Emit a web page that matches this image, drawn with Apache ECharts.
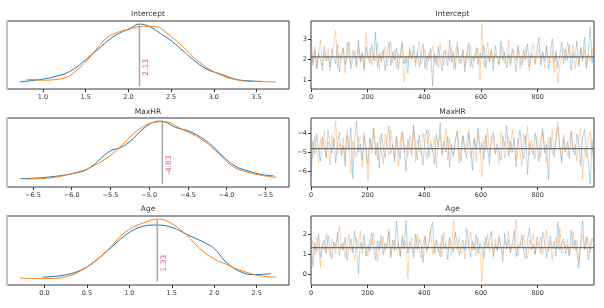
<!DOCTYPE html>
<html>
<head>
<meta charset="utf-8">
<script src="https://cdn.jsdelivr.net/npm/echarts@6/dist/echarts.min.js"></script>
<style>
  html, body { margin: 0; padding: 0; background: #fff; }
  #chart { width: 604px; height: 308px; }
</style>
</head>
<body>
<div id="chart"></div>
<script>
// variable names and posterior means
const varNames = ['Intercept', 'MaxHR', 'Age'];
const means = [2.13, -4.83, 1.33];

// KDE curves, [value, density] (density relative, y axis hidden)
const interceptKde0 = [[0.73,0.063],[1.0,0.107],[1.15,0.15],[1.28,0.204],[1.4,0.30],[1.51,0.42],[1.65,0.58],[1.79,0.74],[1.9,0.83],[2.02,0.90],[2.13,0.97],[2.25,0.93],[2.38,0.82],[2.52,0.69],[2.64,0.55],[2.75,0.42],[2.92,0.26],[3.07,0.19],[3.17,0.14],[3.27,0.10],[3.4,0.08],[3.57,0.07]];
const interceptKde1 = [[0.81,0.107],[1.0,0.09],[1.15,0.10],[1.28,0.14],[1.4,0.25],[1.51,0.39],[1.63,0.58],[1.75,0.76],[1.87,0.84],[1.98,0.88],[2.13,0.93],[2.23,0.935],[2.33,0.93],[2.45,0.83],[2.56,0.71],[2.68,0.56],[2.79,0.42],[2.95,0.26],[3.14,0.14],[3.25,0.10],[3.38,0.074],[3.55,0.066],[3.73,0.063]];
const maxhrKde0 = [[-6.67,0.078],[-6.28,0.105],[-5.89,0.18],[-5.76,0.25],[-5.63,0.38],[-5.5,0.50],[-5.37,0.55],[-5.24,0.65],[-5.1,0.81],[-4.97,0.92],[-4.87,0.95],[-4.8,0.94],[-4.67,0.86],[-4.45,0.78],[-4.23,0.62],[-4.06,0.43],[-3.89,0.27],[-3.71,0.19],[-3.54,0.14],[-3.39,0.12]];
const maxhrKde1 = [[-6.6,0.073],[-6.28,0.09],[-5.89,0.19],[-5.72,0.27],[-5.5,0.43],[-5.28,0.67],[-5.1,0.85],[-4.88,0.94],[-4.8,0.94],[-4.58,0.83],[-4.32,0.67],[-4.15,0.51],[-3.93,0.27],[-3.71,0.17],[-3.5,0.12],[-3.36,0.10]];
const ageKde0 = [[-0.02,0.073],[0.26,0.11],[0.49,0.22],[0.73,0.46],[0.96,0.72],[1.16,0.85],[1.33,0.87],[1.51,0.83],[1.67,0.73],[1.87,0.61],[2.0,0.51],[2.14,0.30],[2.3,0.16],[2.46,0.11],[2.67,0.125]];
const ageKde1 = [[-0.29,0.057],[0.0,0.05],[0.26,0.08],[0.49,0.22],[0.73,0.47],[0.96,0.77],[1.2,0.92],[1.33,0.96],[1.43,0.94],[1.63,0.77],[1.83,0.51],[2.0,0.35],[2.14,0.27],[2.3,0.18],[2.54,0.093],[2.73,0.073]];

// traces (thinned, 150 draws per chain over 0..999)
const interceptChain0 = [
  3.18,1.72,2.45,1.58,2.31,2.02,1.47,2.66,1.93,2.21,1.64,2.52,2.08,1.81,2.74,
  1.39,2.27,2.58,1.76,2.12,2.89,1.55,2.04,2.41,1.68,2.95,1.88,2.33,1.49,2.61,
  2.17,1.83,2.73,1.96,3.34,1.62,2.28,1.91,2.49,1.44,2.19,2.83,1.71,2.36,1.98,
  2.57,1.52,2.24,2.86,1.79,2.11,1.33,2.47,2.03,2.69,1.86,2.38,1.63,2.22,2.77,
  1.57,2.14,1.92,2.54,0.72,2.29,1.74,2.62,2.01,1.45,2.43,2.16,1.69,2.97,1.87,
  2.35,1.53,2.64,2.09,1.81,2.48,1.38,2.26,2.81,1.66,2.13,1.94,2.59,1.75,2.32,
  2.05,2.71,1.61,2.23,1.89,2.44,1.51,2.67,2.18,1.77,2.92,1.96,2.37,1.59,2.25,
  1.84,2.53,2.07,1.42,2.63,2.15,1.73,2.46,1.99,2.78,1.65,2.31,2.06,1.82,2.55,
  3.08,1.7,2.39,1.95,2.68,1.54,2.27,3.02,1.86,2.43,1.61,2.2,2.85,1.78,2.51,
  1.97,2.74,1.48,2.34,2.1,2.9,1.67,2.56,1.92,3.1,1.58,2.42,3.58,1.83,2.65];
const interceptChain1 = [
  2.42,1.86,2.63,1.55,2.24,2.97,1.71,2.35,1.93,2.58,1.44,2.19,2.76,3.41,1.62,
  2.28,1.97,2.51,1.35,2.84,2.07,1.78,2.46,2.12,1.63,2.69,1.89,2.33,1.58,3.31,
  2.01,2.55,1.74,2.29,1.92,2.81,1.51,2.38,2.09,2.64,1.69,2.21,2.93,1.84,2.47,
  1.57,2.32,2.05,2.72,0.92,2.16,1.81,2.59,1.98,2.44,1.66,2.27,2.86,1.76,2.11,
  2.53,1.49,2.37,2.0,2.66,1.87,2.22,1.61,2.78,2.04,1.73,2.49,2.17,1.94,2.61,
  1.52,2.3,2.88,1.79,2.14,2.45,1.68,2.36,1.96,2.71,1.58,2.25,2.03,2.57,1.04,
  3.73,1.64,2.19,2.83,1.9,2.5,1.85,2.3,2.08,1.72,2.34,2.62,1.81,2.15,2.96,
  1.67,2.26,2.48,1.95,2.7,1.56,2.2,1.88,2.6,2.02,1.43,2.39,2.77,1.75,2.13,
  2.52,1.91,2.31,1.6,2.67,2.06,1.83,2.44,1.37,2.29,0.86,1.69,2.18,2.56,1.97,
  2.85,2.35,2.09,2.73,1.54,2.23,1.8,2.62,2.01,2.47,1.65,2.28,1.89,2.54,2.16];
const maxhrChain0 = [
  -6.28,-4.41,-5.12,-4.05,-4.93,-5.47,-4.22,-4.76,-5.31,-3.88,-4.64,-5.06,-4.3,-5.58,-4.51,
  -3.97,-5.21,-4.68,-5.74,-4.12,-4.87,-3.71,-6.38,-4.45,-3.4,-5.03,-4.59,-5.41,-4.18,-4.96,
  -5.63,-4.27,-4.82,-3.79,-5.16,-4.49,-5.87,-4.03,-4.71,-5.29,-4.38,-3.65,-5.09,-4.62,-5.52,
  -4.15,-4.9,-5.36,-3.92,-4.57,-6.02,-4.33,-4.8,-5.19,-3.58,-4.69,-5.44,-4.11,-4.98,-5.7,
  -4.24,-3.83,-5.27,-4.54,-4.86,-5.61,-4.07,-4.73,-3.46,-5.13,-4.42,-5.0,-4.19,-5.81,-4.61,
  -5.24,-4.35,-3.89,-4.95,-5.48,-4.14,-4.78,-5.33,-4.02,-4.66,-5.95,-4.29,-4.88,-3.74,-5.07,
  -4.5,-5.38,-4.09,-4.84,-5.66,-4.21,-3.95,-5.11,-4.56,-4.99,-5.42,-4.17,-4.72,-3.62,-5.23,
  -4.44,-5.02,-4.26,-5.78,-4.63,-3.86,-4.91,-5.34,-4.13,-6.18,-4.53,-4.8,-5.15,-4.0,-4.69,
  -5.5,-4.37,-3.76,-5.06,-4.58,-6.46,-4.23,-4.94,-5.29,-4.1,-3.68,-4.75,-5.57,-4.32,-5.0,
  -4.47,-5.35,-3.94,-4.85,-5.18,-4.06,-4.62,-5.72,-4.25,-3.81,-4.97,-5.44,-6.68,-4.36,-6.08];
const maxhrChain1 = [
  -4.62,-5.35,-4.18,-4.97,-5.58,-4.3,-4.83,-3.91,-5.24,-4.47,-5.69,-4.09,-4.76,-3.38,-5.13,
  -4.55,-5.02,-4.24,-5.47,-3.86,-4.71,-6.12,-4.39,-4.94,-5.3,-4.15,-4.68,-5.81,-3.98,-4.88,
  -6.52,-4.33,-5.08,-3.73,-4.6,-5.41,-4.2,-4.86,-5.64,-4.04,-4.52,-5.17,-3.84,-4.79,-5.33,
  -4.27,-5.76,-4.44,-3.95,-5.05,-4.65,-5.26,-4.12,-4.91,-3.69,-5.53,-4.36,-4.81,-5.11,-4.02,
  -4.73,-5.39,-3.88,-4.57,-5.0,-4.23,-5.85,-4.48,-4.07,-5.2,-4.66,-3.78,-5.45,-4.3,-4.95,
  -5.14,-4.41,-3.93,-5.61,-4.74,-4.16,-5.03,-4.53,-3.82,-5.29,-4.87,-4.25,-5.5,-4.01,-4.69,
  -6.31,-4.35,-4.98,-3.72,-5.22,-4.58,-4.11,-5.07,-4.8,-5.66,-3.96,-4.43,-5.32,-4.64,-4.19,
  -5.01,-3.85,-4.7,-5.43,-4.28,-4.92,-5.74,-4.06,-4.55,-3.67,-5.18,-4.38,-4.85,-5.37,-4.14,
  -4.6,-5.27,-3.99,-4.77,-5.56,-4.21,-4.9,-3.81,-5.12,-4.46,-3.39,-4.73,-5.44,-4.08,-4.96,
  -5.23,-4.34,-3.9,-5.0,-4.61,-5.49,-4.17,-3.77,-6.43,-4.82,-5.3,-4.26,-3.94,-5.06,-4.52];
const ageChain0 = [
  1.82,0.41,1.57,1.12,2.01,0.86,1.44,1.69,1.03,1.91,1.27,0.78,1.62,1.38,2.08,
  0.95,1.51,1.19,1.84,0.69,1.33,1.76,1.08,2.17,1.42,0.02,1.58,1.24,1.97,0.89,
  1.47,1.15,2.05,1.31,0.74,1.66,1.21,1.93,0.98,1.54,1.36,2.12,0.83,1.71,1.17,
  2.64,1.45,0.92,1.79,1.28,2.68,1.06,1.6,1.39,0.81,2.0,1.23,1.74,1.49,0.59,
  1.88,1.13,1.55,2.22,2.58,1.01,1.67,1.34,0.87,1.95,1.26,1.52,0.72,1.83,1.41,
  1.1,2.09,1.59,0.96,1.37,1.73,1.18,2.26,1.46,0.84,1.64,1.22,1.98,1.05,1.53,
  1.35,0.79,1.86,1.29,1.62,2.14,0.93,1.48,1.16,1.8,1.4,0.67,2.03,1.25,1.7,
  1.09,1.57,2.19,0.88,1.44,1.32,1.94,1.14,0.76,1.68,2.31,1.2,1.5,0.99,1.85,
  1.43,1.07,2.11,1.61,0.82,1.37,1.9,1.27,1.66,0.91,2.59,1.19,1.53,1.78,1.02,
  1.46,0.94,2.2,1.3,1.72,1.11,0.33,1.63,2.66,1.24,1.87,0.71,1.49,1.79,1.65];
const ageChain1 = [
  1.21,1.68,0.97,1.85,1.42,0.36,1.59,1.13,2.04,1.3,0.88,1.74,1.47,1.05,1.92,
  2.38,1.26,1.61,0.82,1.5,1.99,1.17,1.39,0.73,1.81,1.33,2.15,1.02,1.56,1.24,
  0.91,1.77,1.44,2.07,1.19,0.62,1.65,1.36,1.87,1.08,1.53,2.24,0.96,1.4,1.71,
  1.14,1.58,0.85,1.95,1.29,1.63,-0.21,1.48,1.82,1.07,1.37,2.02,1.23,0.79,1.55,
  1.9,1.18,1.46,2.28,0.99,1.34,1.73,1.11,1.6,0.87,2.12,1.41,1.25,1.78,0.94,
  2.73,1.52,1.2,1.86,1.04,1.45,0.77,1.69,1.31,2.09,1.16,1.57,0.9,1.83,1.27,
  -0.37,1.64,1.38,2.01,1.1,1.55,0.84,1.76,1.22,1.93,1.35,0.98,1.67,1.43,2.16,
  1.06,1.51,1.28,2.74,0.93,1.62,1.39,1.97,1.15,0.8,1.7,1.47,2.05,1.01,1.59,
  1.32,1.89,0.95,1.54,2.21,1.12,1.66,0.73,1.44,1.8,1.26,2.33,1.03,1.6,1.36,
  1.75,0.89,1.5,2.1,1.19,1.67,0.58,1.41,1.94,1.23,1.56,1.84,1.08,1.71,1.62];

// tick labels
const interceptTicks = [1.0, 1.5, 2.0, 2.5, 3.0, 3.5];
const maxhrTicks = [-6.5, -6.0, -5.5, -5.0, -4.5, -4.0, -3.5];
const ageTicks = [0.0, 0.5, 1.0, 1.5, 2.0, 2.5];
const interceptTraceTicks = [1, 2, 3];
const maxhrTraceTicks = [-6, -5, -4];
const ageTraceTicks = [0, 1, 2];
const drawTicks = [0, 200, 400, 600, 800];
const lastDraw = 999;

const BLUE = '#1f77b4', ORANGE = '#ff7f0e';
const FONT = 'DejaVu Sans';
const TXT = '#333';

const rows = [
  { kde: [interceptKde0, interceptKde1], trace: [interceptChain0, interceptChain1], kdeTicks: interceptTicks, traceTicks: interceptTraceTicks, top: 21, height: 68, titleTop: 10 },
  { kde: [maxhrKde0, maxhrKde1], trace: [maxhrChain0, maxhrChain1], kdeTicks: maxhrTicks, traceTicks: maxhrTraceTicks, top: 118, height: 69, titleTop: 108 },
  { kde: [ageKde0, ageKde1], trace: [ageChain0, ageChain1], kdeTicks: ageTicks, traceTicks: ageTraceTicks, top: 216, height: 69, titleTop: 205 }
];

const minus = s => String(s).replace('-', '\u2212');
function padRange(lo, hi) {
  const r = hi - lo;
  return [lo - 0.05 * r, hi + 0.05 * r];
}

const grid = [], xAxis = [], yAxis = [], series = [], title = [];

rows.forEach((row, i) => {
  const name = varNames[i], mean = means[i];
  const gl = 2 * i, gr = 2 * i + 1;
  grid.push({ left: 7, top: row.top, width: 282, height: row.height, show: true, borderColor: '#3a3a3a', borderWidth: 1 });
  grid.push({ left: 311, top: row.top, width: 283, height: row.height, show: true, borderColor: '#3a3a3a', borderWidth: 1 });

  title.push({ text: name, left: 148, top: row.titleTop, textAlign: 'center', padding: 0,
    textStyle: { fontSize: 7.5, fontWeight: 'normal', color: TXT, fontFamily: FONT } });
  title.push({ text: name, left: 452.5, top: row.titleTop, textAlign: 'center', padding: 0,
    textStyle: { fontSize: 7.5, fontWeight: 'normal', color: TXT, fontFamily: FONT } });

  // density panel
  const allX = row.kde[0].concat(row.kde[1]).map(p => p[0]);
  const peak = Math.max(...row.kde[0].concat(row.kde[1]).map(p => p[1]));
  const [xmin, xmax] = padRange(Math.min(...allX), Math.max(...allX));
  xAxis.push({
    type: 'value', gridIndex: gl, min: xmin, max: xmax,
    axisLine: { show: false, onZero: false }, splitLine: { show: false },
    axisTick: { show: true, customValues: row.kdeTicks, length: 3, lineStyle: { color: TXT } },
    axisLabel: { customValues: row.kdeTicks, fontSize: 6.5, color: TXT, fontFamily: FONT, margin: 5,
      formatter: v => minus(v.toFixed(1)) }
  });
  yAxis.push({
    type: 'value', gridIndex: gl, min: -0.05 * peak, max: 1.05 * peak,
    axisLine: { show: true, onZero: false, lineStyle: { color: '#c4c4c4', width: 2 } },
    axisTick: { show: false }, axisLabel: { show: false }, splitLine: { show: false }
  });
  row.kde.forEach((curve, c) => {
    series.push({ type: 'line', xAxisIndex: gl, yAxisIndex: gl, data: curve, smooth: 0.4,
      showSymbol: false, lineStyle: { color: c ? ORANGE : BLUE, width: 1 }, silent: true });
  });
  series.push({ type: 'line', xAxisIndex: gl, yAxisIndex: gl, data: [[mean, 0], [mean, peak]],
    showSymbol: false, lineStyle: { color: '#a8a8a8', width: 1.5 }, silent: true });
  series.push({ type: 'scatter', xAxisIndex: gl, yAxisIndex: gl, data: [[mean, 0.3 * peak]],
    symbolSize: 0, silent: true,
    label: { show: true, formatter: mean.toFixed(2), rotate: 90, position: 'inside', offset: [0, 7],
      color: '#c8304f', fontSize: 7.5, fontFamily: FONT } });

  // trace panel
  const allY = row.trace[0].concat(row.trace[1]);
  const [ymin, ymax] = padRange(Math.min(...allY), Math.max(...allY));
  xAxis.push({
    type: 'value', gridIndex: gr, min: 0, max: lastDraw,
    axisLine: { show: false, onZero: false }, splitLine: { show: false },
    axisTick: { show: true, customValues: drawTicks, length: 3, lineStyle: { color: TXT } },
    axisLabel: { customValues: drawTicks, fontSize: 6.5, color: TXT, fontFamily: FONT, margin: 5 }
  });
  yAxis.push({
    type: 'value', gridIndex: gr, min: ymin, max: ymax,
    axisLine: { show: false, onZero: false }, splitLine: { show: false },
    axisTick: { show: true, customValues: row.traceTicks, length: 3, lineStyle: { color: TXT } },
    axisLabel: { customValues: row.traceTicks, fontSize: 6.5, color: TXT, fontFamily: FONT, margin: 4,
      formatter: v => minus(v) }
  });
  row.trace.forEach((chain, c) => {
    const n = chain.length;
    series.push({ type: 'line', xAxisIndex: gr, yAxisIndex: gr,
      data: chain.map((v, k) => [k * lastDraw / (n - 1), v]),
      showSymbol: false, lineStyle: { color: c ? ORANGE : BLUE, width: 0.9, opacity: 0.35 }, silent: true });
  });
  series.push({ type: 'line', xAxisIndex: gr, yAxisIndex: gr, data: [[0, mean], [lastDraw, mean]],
    showSymbol: false, lineStyle: { color: 'rgba(70,70,70,0.75)', width: 1.3 }, silent: true });
});

const myChart = echarts.init(document.getElementById('chart'));
myChart.setOption({
  animation: false,
  backgroundColor: '#fff',
  title: title,
  grid: grid,
  xAxis: xAxis,
  yAxis: yAxis,
  series: series
});
</script>
</body>
</html>
